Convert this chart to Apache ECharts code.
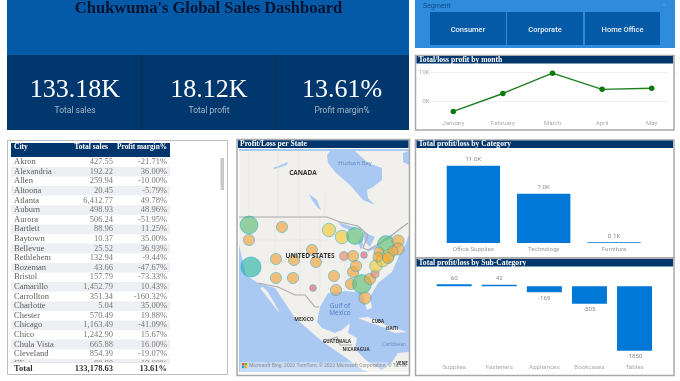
<!DOCTYPE html>
<html><head><meta charset="utf-8">
<style>html,body{margin:0;padding:0;background:#fff}#c{width:680px;height:381px}</style>
<script src="https://cdn.jsdelivr.net/npm/echarts@6/dist/echarts.min.js"></script>
</head><body><div id="c"></div>
<script>
// ---- data ----
const title = "Chukwuma's Global Sales Dashboard";
const kpiValues = ['133.18K', '18.12K', '13.61%'];
const kpiLabels = ['Total sales', 'Total profit', 'Profit margin%'];
const segments = ['Consumer', 'Corporate', 'Home Office'];
const months = ['January', 'February', 'March', 'April', 'May'];
const monthProfit = [-3300, 2800, 9700, 4200, 4600];
const categories = ['Office Supplies', 'Technology', 'Furniture'];
const categoryProfit = [11000, 7000, 100];
const subCategories = ['Supplies', 'Fasteners', 'Appliances', 'Bookcases', 'Tables'];
const subCategoryProfit = [60, 42, -169, -505, -1850];
const tableHeader = ['City', 'Total sales', 'Profit margin%'];
const cities = ['Akron','Alexandria','Allen','Altoona','Atlanta','Auburn','Aurora','Bartlett','Baytown','Bellevue','Bethlehem','Bozeman','Bristol','Camarillo','Carrollton','Charlotte','Chester','Chicago','Chico','Chula Vista','Cleveland','Clinton'];
const citySales = ['427.55','192.22','259.94','20.45','6,412.77','498.93','506.24','88.96','10.37','25.52','132.94','43.66','157.79','1,452.79','351.34','5.04','570.49','1,163.49','1,242.90','665.88','854.39','80.80'];
const cityMargin = ['-21.71%','36.00%','-10.00%','-5.79%','49.78%','48.96%','-51.95%','11.25%','35.00%','36.93%','-9.44%','-47.67%','-73.33%','10.43%','-160.32%','35.00%','19.88%','-41.09%','15.67%','16.00%','-19.07%','18.00%'];
const tableTotal = ['Total', '133,178.63', '13.61%'];
// bubble map: positions in map-grid units, and estimated state profit
const stateX = [249,282,249,329,342,355,386,398,398,379,388,393,344,353,364,251,276,294,316,312,276,293,313,334,336,353,356,351,362,370,365,375,376,383,378,388];
const stateY = [225,227,240,230,237,236,244,241,249,252,256,251,256,256,255,267,259,260,262,250,278,278,288,276,290,272,266,284,284,279,298,274,266,260,257,258];
const stateProfit = [1024,400,400,576,576,900,900,484,484,324,500,324,256,400,144,1296,400,400,400,400,400,400,144,400,400,400,400,400,1156,400,484,210,500,576,324,400];
// map shapes in the same map-grid units
const landNA = [[239,151],[409,151],[409,235],[405,245],[398,258],[392,272],[378,283],[370,297],[372,308],[367,310],[362,293],[346,291],[328,293],[320,307],[317,322],[322,328],[335,333],[342,330],[350,323],[348,333],[357,338],[355,349],[368,362],[382,370],[388,372],[368,372],[363,370],[342,355],[323,342],[317,337],[295,318],[275,288],[258,283],[246,275],[243,262],[239,245]];
const landBaja = [[263,287],[268,292],[280,313],[277,310],[267,297],[260,288]];
const landSouth = [[380,372],[392,362],[398,353],[409,352],[409,372]];
const landCuba = [[358,318],[368,317],[382,323],[395,330],[382,327],[368,322]];
const landHisp = [[387,330],[395,328],[407,332],[395,333]];
const waterShapes = [
 [[327,155],[330,151],[355,151],[368,163],[382,168],[382,180],[373,187],[367,190],[368,198],[375,205],[363,200],[350,185],[335,172],[328,163]],
 [[338,222],[350,226],[357,228],[350,230],[342,227]],
 [[362,235],[363,245],[361,250],[358,242]],
 [[363,232],[375,237],[370,247],[365,242]],
 [[367,250],[382,243],[378,247],[368,252]],
 [[382,240],[393,234],[392,238],[383,242]],
 [[309,194],[317,200],[321,210],[317,207],[312,200]],
 [[273,168],[288,162],[287,165],[275,169]],
 [[403,153],[409,151],[409,165],[403,162]]
];
const borderMajor = [
 [[239,217],[327,217],[340,222],[358,226],[368,235],[363,248],[368,250],[382,242],[392,235],[408,223]],
 [[258,283],[278,287],[295,295],[305,295],[315,307],[319,307]],
 [[323,342],[337,337],[340,345],[352,345]]
];
const borderMinor = [
 [[249,151],[249,217]],[[278,151],[278,217]],[[299,151],[299,217]],[[325,190],[325,217]],
 [[250,240],[330,240]],[[275,217],[275,283]],[[300,217],[300,295]],[[248,262],[345,262]],[[320,217],[320,300]],[[340,262],[385,262]],[[345,262],[345,291]]
];
const mapLabels = [
 ['CANADA',303,173,'bold 6.5px "Open Sans"','#333'],['Hudson Bay',355,163,'6px "Open Sans"','#5f86ba'],
 ['UNITED STATES',310,256,'bold 6.5px "Open Sans"','#333'],['Gulf of',340,306,'6.5px "Open Sans"','#4f7ec0'],['Mexico',340,313,'6.5px "Open Sans"','#4f7ec0'],
 ['MEXICO',304,320,'bold 5px "Open Sans"','#333'],['CUBA',378,322,'bold 4.5px "Open Sans"','#333'],['HAITI',392,329,'bold 4.5px "Open Sans"','#333'],
 ['Caribbean',394,345,'5px "Open Sans"','#6a8ac0'],['GUATEMALA',337,342,'bold 4.5px "Open Sans"','#333'],['NICARAGUA',356,350,'bold 4.5px "Open Sans"','#333'],['VENE',402,364,'bold 4.5px "Open Sans"','#333']
];
const attribution = 'Microsoft Bing  2022 TomTom, \u00a9 2022 Microsoft Corporation, \u00a9 Terms';

// ---- helpers ----
const NAVY = '#00366c', BAR = '#0078d7';
const SERIF = '"Liberation Serif"', SANS = 'Roboto';
const rect = (x,y,w,h,fill,z,stroke,lw) => ({type:'rect',z:z||0,silent:true,shape:{x,y,width:w,height:h},style:{fill:fill||'none',stroke:stroke||'none',lineWidth:lw||0}});
const text = (s,x,y,font,fill,align,z) => ({type:'text',z:z||5,silent:true,style:{text:s,x,y,font,fill,textAlign:align||'center',textVerticalAlign:'middle'}});
const g = [];
// banner and KPI
g.push(rect(7,0,402,55,'#045aa6'));
g.push(rect(7,55,402,75,'#00386e'));
g.push(rect(141,55,1,75,'#122c52'), rect(275,55,1,75,'#122c52'));
g.push(text(title,208.5,9,'bold 16.5px '+SERIF,'#04132f'));
[75,209,342].forEach((x,i)=>{
  g.push(text(kpiValues[i],x,90.5,'26px '+SERIF,'#fff'));
  g.push(text(kpiLabels[i],x,111,'8.5px '+SANS,'#aab6c6'));
});
// slicer
g.push(rect(415,0,260,48,'#2f8bdc'));
g.push(text('Segment',423,6,'7px '+SANS,'#0d4a86','left'));
g.push(text('^',664,7,'7px '+SANS,'#5fa3e4','center'));
[[430,76],[507,76],[585,75]].forEach((b,i)=>{
  g.push(rect(b[0],12,b[1],33,'#045aa6'));
  g.push(text(segments[i],b[0]+b[1]/2,30,'500 7.5px '+SANS,'#e8f1fa'));
});
// table
g.push(rect(7.5,140.5,220,234,'#fff',0,'#bdbdbd',1));
g.push(rect(11,143,159,14,NAVY,1));
g.push(text(tableHeader[0],14,147.5,'bold 7.6px '+SERIF,'#fff','left'));
g.push(text(tableHeader[1],108,147.5,'bold 7.6px '+SERIF,'#fff','right'));
g.push(text(tableHeader[2],167,147.5,'bold 7.3px '+SERIF,'#fff','right'));
cities.forEach((c,i)=>{
  const y = 162+i*9.6;
  if(i%2===1) g.push(rect(11,y-4.8,159,9.6,'#eeeff2',1));
  g.push(text(c,14,y,'8.5px '+SERIF,'#5c5c5c','left',2));
  g.push(text(citySales[i],113,y,'8.5px '+SERIF,'#777','right',2));
  g.push(text(cityMargin[i],167,y,'8.5px '+SERIF,'#777','right',2));
});
g.push(rect(9,362,215,12,'#fff',3));
g.push(rect(11,362,159,0.6,'#ccc',3));
g.push(text(tableTotal[0],14,368.5,'bold 8.5px '+SERIF,'#333','left',4));
g.push(text(tableTotal[1],113,368.5,'bold 8.5px '+SERIF,'#333','right',4));
g.push(text(tableTotal[2],167,368.5,'bold 8.5px '+SERIF,'#333','right',4));
g.push(rect(220.5,158,3.5,32,'#c8c8c8',3));
// map base
g.push(rect(239,149,170,223,'#a9c8f2',0));
// overlays for framed visuals
function frame(x,y,w,h,hdrY,hdrH,label){
  g.push(rect(x,y,w,h,'none',8,'#a8a8a8',1.5));
  g.push(rect(x+1,hdrY,w-2,hdrH,NAVY,9));
  g.push(text(label,x+3,hdrY+hdrH/2,'bold 7.6px '+SERIF,'#fff','left',10));
}
g.push(rect(415.5,55.5,258.5,74.5,'#fff',0));
g.push(rect(415.5,140,258.5,118,'#fff',0));
g.push(rect(415.5,258,258.5,117,'#fff',0));
g.push(rect(668,60,5,60,'#fff',7));
frame(415.5,55.5,258.5,74.5,56,7.5,'Total/loss profit by month');
frame(415.5,140,258.5,118,140.5,7.5,'Total profit/loss by Category');
frame(415.5,258,258.5,117.5,259,7.5,'Total profit/loss by Sub-Category');
frame(237,139.5,172.5,236,140.3,7.7,'Profit/Loss per State');
mapLabels.forEach(l=>g.push(text(l[0],l[1],l[2],l[3],l[4],'center',6)));
g.push(rect(240,362,168,10,'rgba(255,255,255,0.35)',5));
[[242,363,'#f25022'],[244.7,363,'#7fba00'],[242,365.7,'#00a4ef'],[244.7,365.7,'#ffb900']].forEach(s=>g.push(rect(s[0],s[1],2.4,2.4,s[2],6)));
g.push(text(attribution,249,366,'5px '+SANS,'#8a8a8a','left',6));

const labelStyle = {color:'#9a9a9a',fontSize:6.2,fontFamily:SANS};
const hidden = {show:false};
function shapeSeries(list,kind,style,z){
  return {type:'custom',xAxisIndex:3,yAxisIndex:3,z,silent:true,clip:true,
    data:list.map((_,i)=>[i]),
    renderItem:(p,api)=>({type:kind,shape:{points:list[p.dataIndex].map(q=>api.coord(q))},style})};
}
function bubbleColor(v){
  if(v<200) return '#ee5f6c';
  if(v<300) return '#f4845f';
  if(v<495) return '#f2a53e';
  if(v<700) return '#f3ca3c';
  if(v<1200) return '#63bd78';
  return '#2bb7a6';
}
const option = {
  animation:false,
  backgroundColor:'#fff',
  graphic:{elements:g},
  grid:[
    {left:428.5,top:72.3,width:248,height:58.8},
    {left:438.2,top:165.7,width:211,height:77.3},
    {left:431.6,top:284.2,width:225.5,height:66.5},
    {left:239,top:149,width:170,height:223}
  ],
  xAxis:[
    {gridIndex:0,type:'category',data:months,axisLine:hidden,axisTick:hidden,axisLabel:{...labelStyle,interval:0,margin:-11,color:'#aaa'}},
    {gridIndex:1,type:'category',data:categories,axisLine:hidden,axisTick:hidden,axisLabel:{...labelStyle,interval:0,margin:3}},
    {gridIndex:2,type:'category',data:subCategories,axisLine:hidden,axisTick:hidden,axisLabel:{...labelStyle,interval:0,margin:13.5,color:'#aaa'}},
    {gridIndex:3,type:'value',min:239,max:409,show:false}
  ],
  yAxis:[
    {gridIndex:0,type:'value',min:-10000,max:10000,interval:10000,axisLine:hidden,axisTick:hidden,
     splitLine:{showMinLine:false,lineStyle:{color:'#f0f0f0',width:1}},
     axisLabel:{...labelStyle,color:'#aaa',margin:-1,formatter:v=>v<0?'':(v/1000)+'K'}},
    {gridIndex:1,type:'value',min:0,max:11000,show:false},
    {gridIndex:2,type:'value',min:-1850,max:60,show:false},
    {gridIndex:3,type:'value',min:149,max:372,inverse:true,show:false}
  ],
  series:[
    {type:'line',xAxisIndex:0,yAxisIndex:0,data:monthProfit,symbol:'circle',symbolSize:5.5,
     lineStyle:{color:'#1e7f1e',width:1.4},itemStyle:{color:'#0b7a0b'}},
    {type:'bar',xAxisIndex:1,yAxisIndex:1,data:categoryProfit,barWidth:53.3,itemStyle:{color:BAR},
     label:{show:true,position:'top',distance:3,color:'#8c8c8c',fontSize:6.2,fontFamily:SANS,formatter:p=>(p.value/1000).toFixed(1)+'K'}},
    {type:'bar',xAxisIndex:2,yAxisIndex:2,data:subCategoryProfit,barWidth:35,itemStyle:{color:BAR},
     label:{show:true,position:'outside',distance:3,color:'#8c8c8c',fontSize:6.2,fontFamily:SANS}},
    shapeSeries([landNA,landBaja,landSouth,landCuba,landHisp],'polygon',{fill:'#f1f0ec'},2),
    shapeSeries(waterShapes,'polygon',{fill:'#a9c8f2'},2.1),
    shapeSeries(borderMinor,'polyline',{fill:'none',stroke:'#e2e2de',lineWidth:0.6},2.2),
    shapeSeries(borderMajor,'polyline',{fill:'none',stroke:'#a9a9a9',lineWidth:1.1},2.3),
    {type:'scatter',xAxisIndex:3,yAxisIndex:3,z:3,silent:true,
     data:stateX.map((x,i)=>[x,stateY[i],stateProfit[i]]),
     symbolSize:d=>0.56*Math.sqrt(d[2]),
     itemStyle:{opacity:0.65,borderWidth:0.7,color:p=>bubbleColor(p.value[2]),borderColor:p=>bubbleColor(p.value[2])}}
  ]
};
echarts.init(document.getElementById('c'),null,{renderer:'canvas'}).setOption(option);
</script></body></html>
